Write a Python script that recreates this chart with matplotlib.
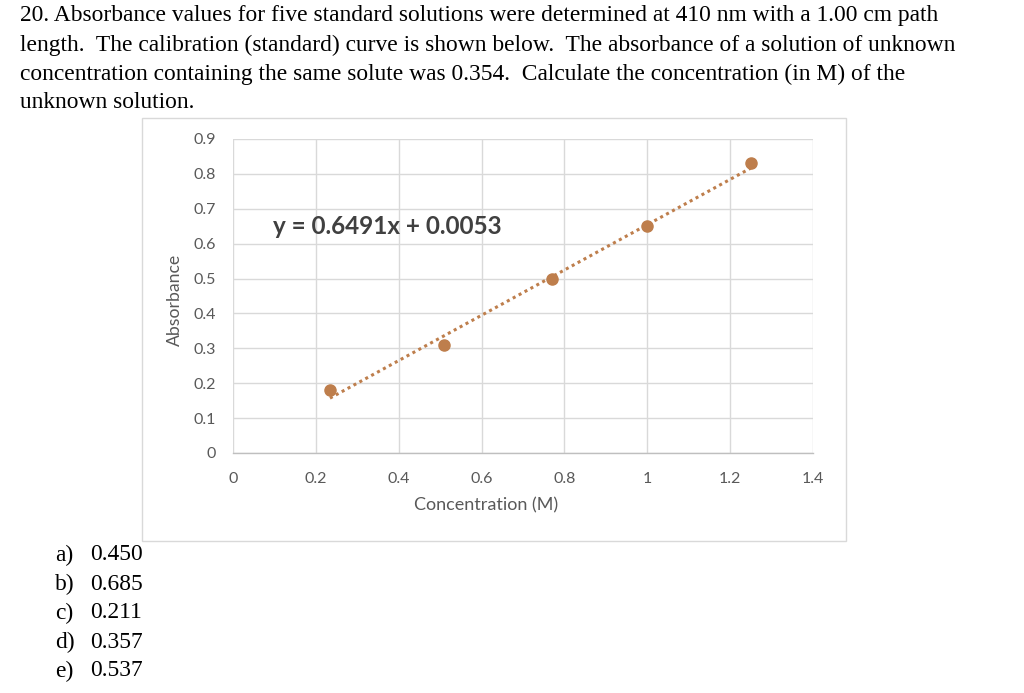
import numpy as np
import matplotlib
matplotlib.use("Agg")
import matplotlib.pyplot as plt
from matplotlib.patches import Rectangle

# question text
question_lines = [
    "20. Absorbance values for five standard solutions were determined at 410 nm with a 1.00 cm path",
    "length.  The calibration (standard) curve is shown below.  The absorbance of a solution of unknown",
    "concentration containing the same solute was 0.354.  Calculate the concentration (in M) of the",
    "unknown solution.",
]
choice_letters = ["a)", "b)", "c)", "d)", "e)"]
choice_values = ["0.450", "0.685", "0.211", "0.357", "0.537"]

# calibration data
conc = [0.234, 0.51, 0.77, 1.0, 1.25]
absorb = [0.18, 0.31, 0.50, 0.65, 0.83]
slope = 0.6491
intercept = 0.0053
xticks = [0, 0.2, 0.4, 0.6, 0.8, 1, 1.2, 1.4]
yticks = [0, 0.1, 0.2, 0.3, 0.4, 0.5, 0.6, 0.7, 0.8, 0.9]

W, H = 1024, 693
fig = plt.figure(figsize=(W / 100, H / 100), dpi=100)

def fx(px):
    return px / W

def fy(py):
    return 1 - py / H

serif = "Liberation Serif"
sans = "Lato"
pt = "#BE7E4C"
grid_c = "#D9D9D9"
txt_c = "#595959"

for i, line in enumerate(question_lines):
    fig.text(fx(20), fy(16 + 29 * i), line, fontfamily=serif, fontsize=16.9,
             va="center", ha="left")

for i in range(len(choice_letters)):
    yy = fy(555 + 29 * i)
    fig.text(fx(55), yy, choice_letters[i], fontfamily=serif, fontsize=16.9, va="center")
    fig.text(fx(90), yy, choice_values[i], fontfamily=serif, fontsize=16.9, va="center")

# chart frame
fig.patches.append(Rectangle((fx(142), fy(541)), fx(846) - fx(142), fy(118) - fy(541),
                             transform=fig.transFigure, fill=False, edgecolor=grid_c, lw=1))

ax = fig.add_axes([fx(233), fy(453), fx(813) - fx(233), fy(139) - fy(453)])
ax.set_xlim(0, 1.4)
ax.set_ylim(0, 0.9)
ax.set_xticks(xticks)
ax.set_yticks(yticks)
ax.set_xticklabels([f"{t:g}" for t in xticks])
ax.set_yticklabels([f"{t:g}" for t in yticks])
ax.grid(True, color=grid_c, lw=1)
ax.set_axisbelow(True)
for s in ["top", "right", "left"]:
    ax.spines[s].set_visible(False)
ax.spines["bottom"].set_color("#BFBFBF")
ax.spines["bottom"].set_linewidth(1)
ax.tick_params(length=0, labelsize=11.5, labelcolor=txt_c)
for lab in ax.get_xticklabels() + ax.get_yticklabels():
    lab.set_fontfamily(sans)
ax.tick_params(axis="y", pad=12)
ax.tick_params(axis="x", pad=14)

xs = np.array([conc[0], conc[-1]])
ax.plot(xs, slope * xs + intercept, linestyle=(0, (1, 1.2)), color=pt, lw=2.2)
ax.plot(conc, absorb, "o", color=pt, markersize=8, clip_on=False)

ax.text(0.0966, 0.648, f"y = {slope}x + {intercept}", fontfamily=sans, fontsize=17.5,
        fontweight="bold", color="#404040", va="center", ha="left")

ax.set_xlabel("Concentration (M)", fontfamily=sans, fontsize=13, color=txt_c, va="center")
ax.set_ylabel("Absorbance", fontfamily=sans, fontsize=12.7, color=txt_c, va="center")
ax.xaxis.set_label_coords(0.436, -0.166)
ax.yaxis.set_label_coords(-0.1, 0.487)

fig.savefig("out.png", dpi=100)
